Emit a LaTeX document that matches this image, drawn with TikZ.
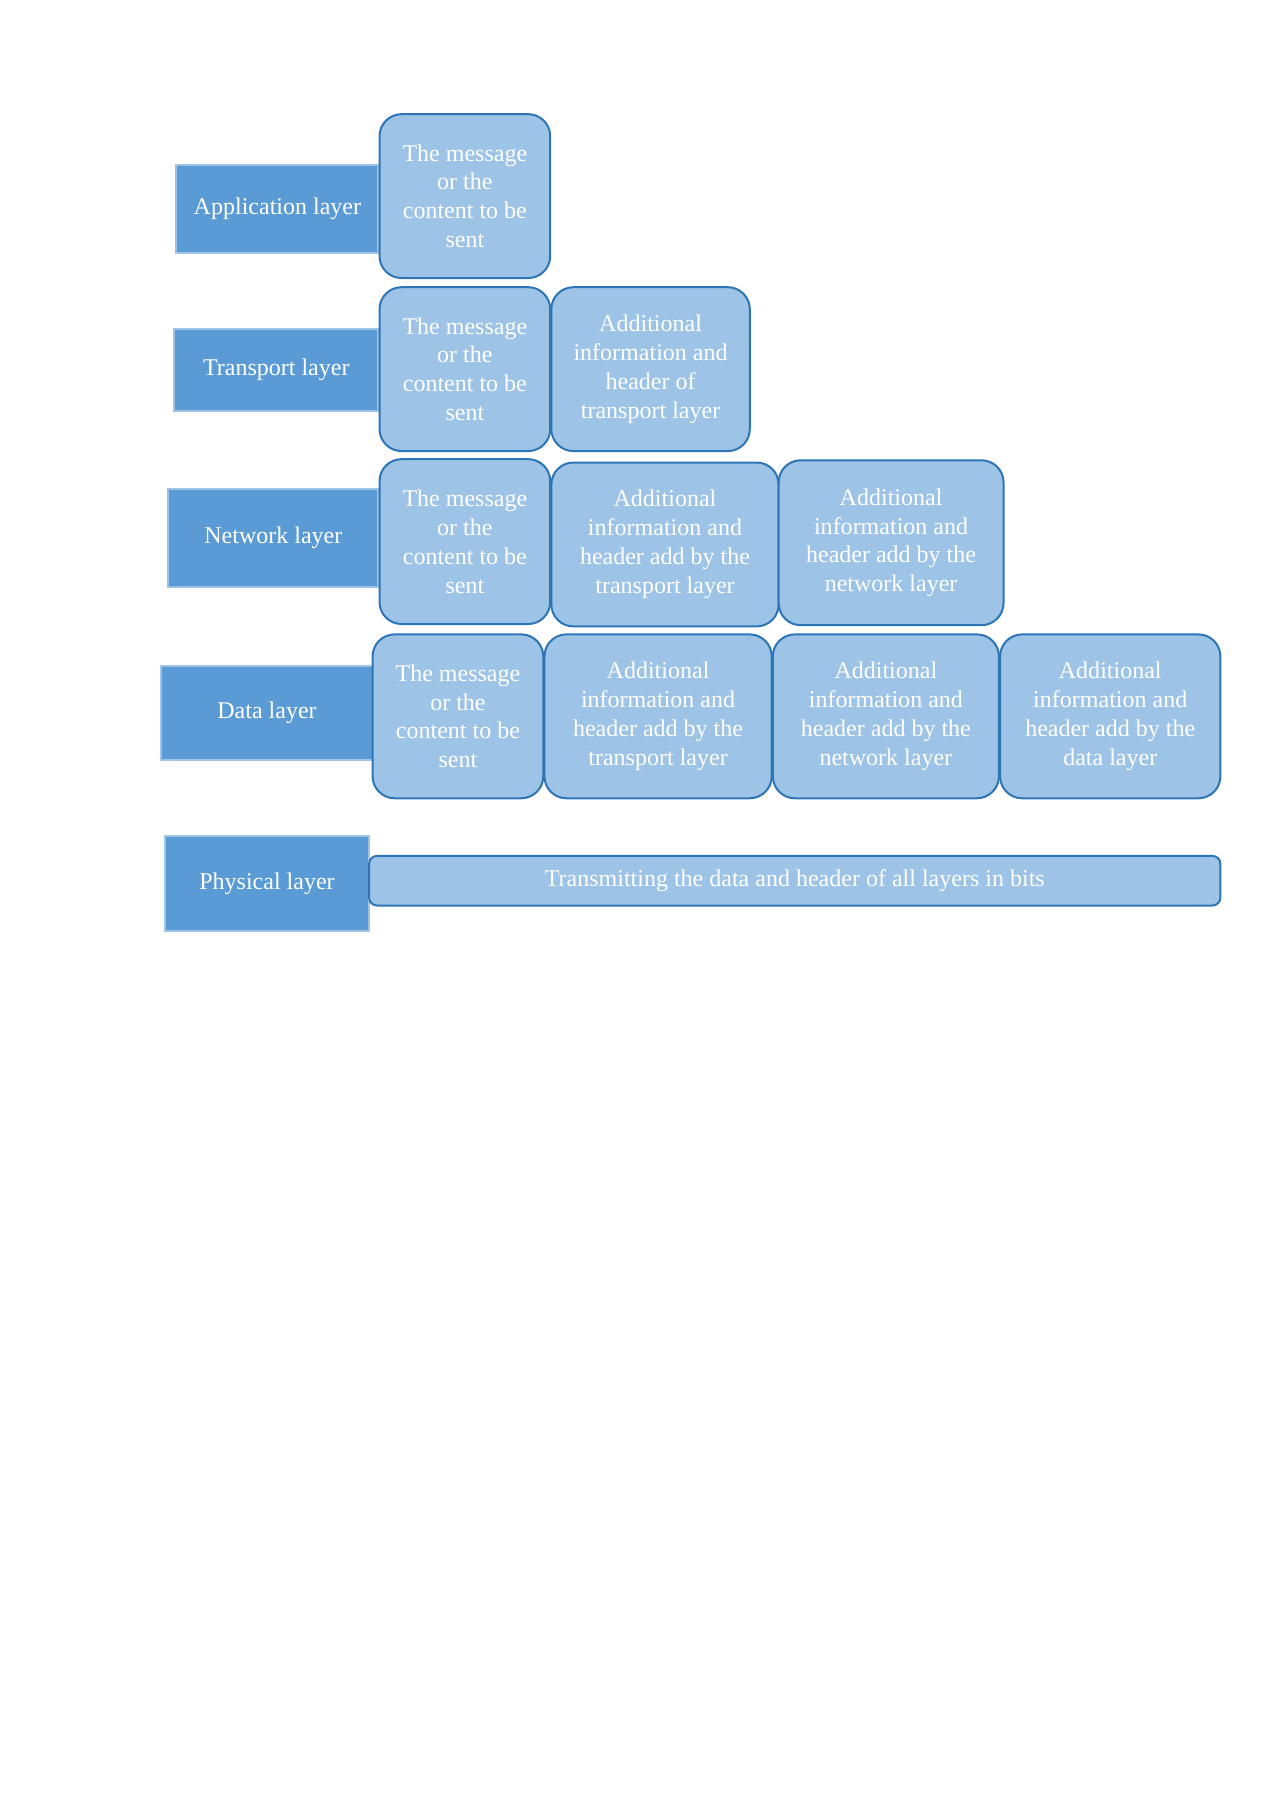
\documentclass[tikz,border=0pt]{standalone}
\usepackage{fontspec}
\setmainfont{Liberation Serif}
\definecolor{layerblue}{HTML}{5B9BD5}
\definecolor{lightblue}{HTML}{9DC3E6}
\definecolor{edgeblue}{HTML}{2E75B6}

\begin{document}
\begin{tikzpicture}[x=0.5765pt, y=-0.5765pt,
    layer/.style={draw=lightblue, line width=1pt, fill=layerblue, text=white,
      inner sep=0pt, font=\fontsize{12}{14.4}\selectfont},
    part/.style={draw=edgeblue, line width=1pt, fill=lightblue, text=white,
      rounded corners=11pt, inner sep=0pt, align=center,
      font=\fontsize{12}{14.4}\selectfont}]

  % page
  \useasboundingbox[fill=white] (0,0) rectangle (1110,1570);

  % Application layer
  \node[layer, minimum width=100.9pt, minimum height=43.8pt] (app) at (240.5,181) {Application layer};
  \node[part, minimum width=85.3pt, minimum height=81.9pt] (appmsg) at (403,170)
    {The message\\or the\\content to be\\sent};

  % Transport layer
  \node[layer, minimum width=102pt, minimum height=40.9pt] (trans) at (239.5,320.5) {Transport layer};
  \node[part, minimum width=85.3pt, minimum height=81.9pt] (transmsg) at (403,320)
    {The message\\or the\\content to be\\sent};
  \node[part, minimum width=99.2pt, minimum height=81.9pt] (transhdr) at (564,320)
    {Additional\\information and\\header of\\transport layer};

  % Network layer
  \node[layer, minimum width=104.9pt, minimum height=49pt] (net) at (237,466.5) {Network layer};
  \node[part, minimum width=85.3pt, minimum height=82.4pt] (netmsg) at (403,469.5)
    {The message\\or the\\content to be\\sent};
  \node[part, minimum width=113.6pt, minimum height=81.9pt] (nettrans) at (576.5,472)
    {Additional\\information and\\header add by the\\transport layer};
  \node[part, minimum width=112.4pt, minimum height=82.4pt] (nethdr) at (772.5,470.5)
    {Additional\\information and\\header add by the\\network layer};

  % Data layer
  \node[layer, minimum width=105.5pt, minimum height=47.3pt] (data) at (231.5,618) {Data layer};
  \node[part, minimum width=85.3pt, minimum height=81.9pt] (datamsg) at (397,621)
    {The message\\or the\\content to be\\sent};
  \node[part, minimum width=113.6pt, minimum height=81.9pt] (datatrans) at (570.5,621)
    {Additional\\information and\\header add by the\\transport layer};
  \node[part, minimum width=113pt, minimum height=81.9pt] (datanet) at (768,621)
    {Additional\\information and\\header add by the\\network layer};
  \node[part, minimum width=110.1pt, minimum height=81.9pt] (datahdr) at (962.5,621)
    {Additional\\information and\\header add by the\\data layer};

  % Physical layer
  \node[layer, minimum width=102pt, minimum height=47.3pt] (phys) at (231.5,766) {Physical layer};
  \node[part, rounded corners=4pt, minimum width=425.5pt, minimum height=24.8pt] (bits) at (689,763.5)
    {Transmitting the data and header of all layers in bits};

\end{tikzpicture}
\end{document}
